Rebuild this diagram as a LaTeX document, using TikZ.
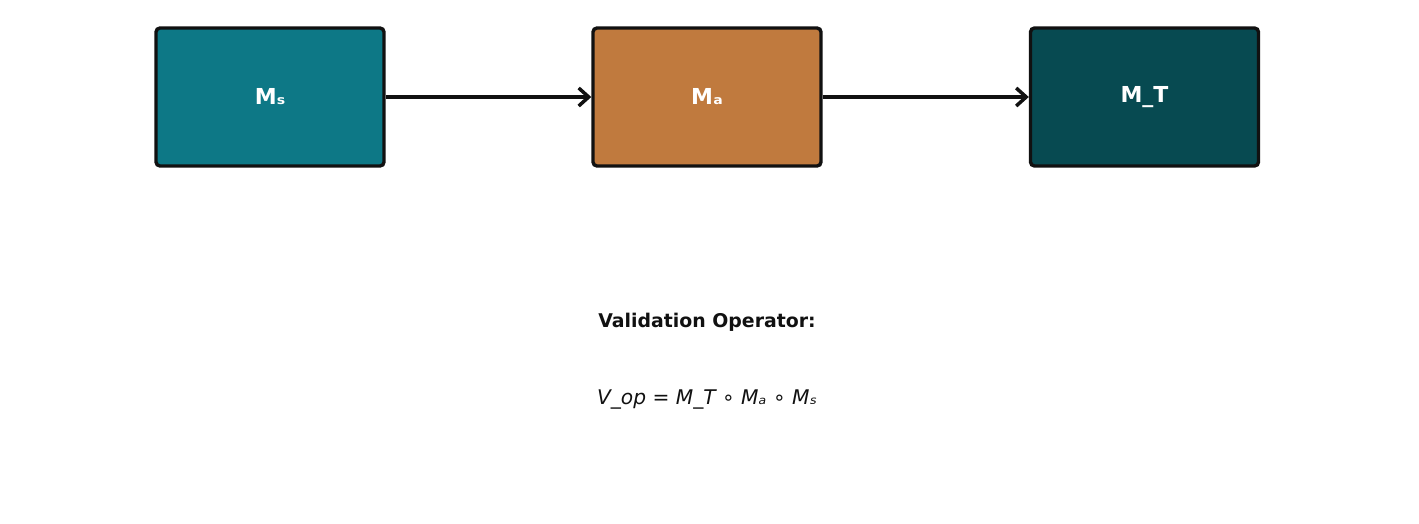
\documentclass[tikz,border=0pt]{standalone}
\usepackage{fontspec}
\setmainfont{DejaVu Sans}
\usetikzlibrary{arrows.meta}
\definecolor{cS}{HTML}{0D7886}
\definecolor{cA}{HTML}{C07A3E}
\definecolor{cT}{HTML}{074A51}
\definecolor{ink}{HTML}{111111}
\tikzset{
  box/.style={draw=ink, line width=3.4pt, rounded corners=4pt, minimum width=228pt, minimum height=138pt, inner sep=0pt, text=white, font=\fontsize{22}{26}\selectfont\bfseries},
  conn/.style={draw=ink, line width=3.5pt, -{Straight Barb[length=10pt,width=18pt,line width=3.5pt]}}
}
\begin{document}
\begin{tikzpicture}[x=1pt,y=-1pt]
\useasboundingbox (0,0) rectangle (1419,523);
\node[box, fill=cS] (ms) at (270,97) {Mₛ};
\node[box, fill=cA] (ma) at (707,97) {Mₐ};
\node[box, fill=cT] (mt) at (1144.5,97) {M\_T};
\draw[conn] (ms) -- (ma);
\draw[conn] (ma) -- (mt);
\node[font=\fontsize{18.9}{22}\selectfont\bfseries, text=ink] (title) at (707,322) {Validation Operator:};
\node[font=\fontsize{20.2}{24}\selectfont\itshape, text=ink] (eq) at (707,400) {V\_op = M\_T ∘ Mₐ ∘ Mₛ};
\end{tikzpicture}
\end{document}
